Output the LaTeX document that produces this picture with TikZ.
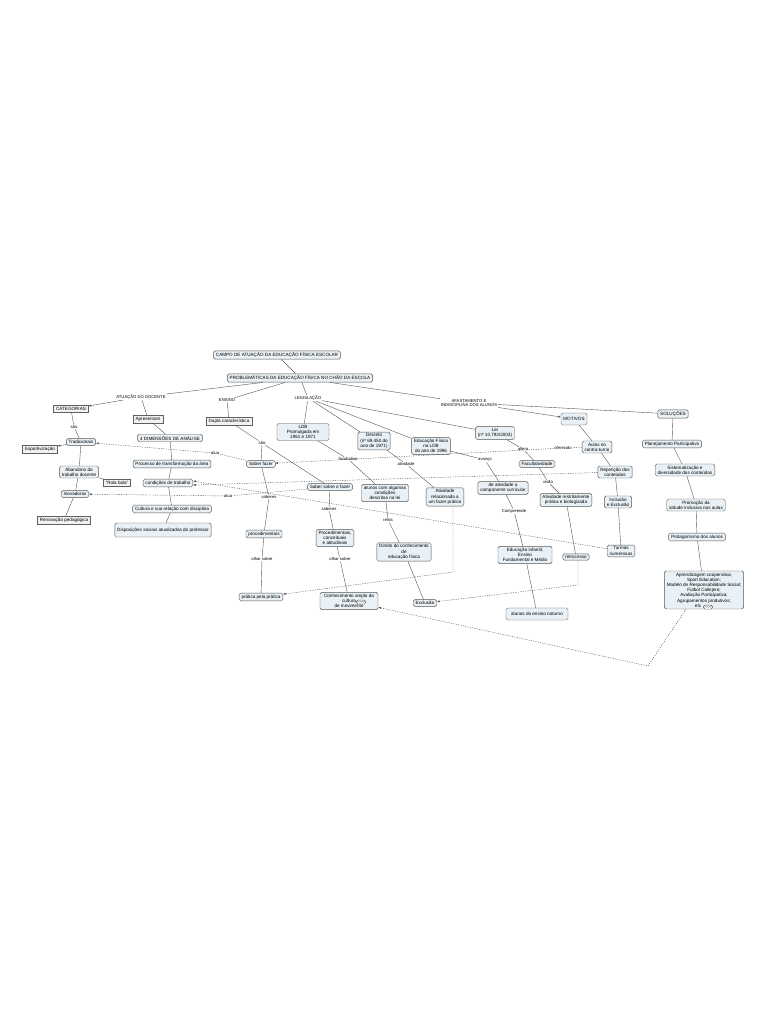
\documentclass[tikz,border=0pt]{standalone}
\usepackage{fontspec}
\setmainfont{Liberation Sans}
\usetikzlibrary{arrows.meta}
\definecolor{cmapfill}{RGB}{233,241,246}
\definecolor{cmapline}{RGB}{85,85,85}

\begin{document}
\begin{tikzpicture}[x=1pt, y=-1pt,
  >={Latex[length=2.6pt,width=2.2pt]},
  concept/.style={draw=cmapline, fill=cmapfill, rounded corners=1.6pt, line width=0.45pt,
    align=center, font=\fontsize{4.6}{5.2}\selectfont, inner xsep=2.4pt, inner ysep=1.7pt},
  plainbox/.style={concept, rounded corners=0pt, draw=gray!75!black, fill=gray!10},
  linklabel/.style={fill=white, inner sep=0.6pt, align=center, font=\fontsize{4.2}{4.8}\selectfont},
  link/.style={draw=cmapline, line width=0.4pt},
  crossline/.style={draw=cmapline, line width=0.4pt, dash pattern=on 1.2pt off 1.2pt},
  crosslink/.style={crossline, ->},
  note/.style={draw=cmapline, rounded corners=1.5pt, fill=white, inner sep=0.8pt,
    font=\fontsize{3.4}{4}\selectfont}]

\fill[white] (0,0) rectangle (768,1024);
\useasboundingbox (0,0) rectangle (768,1024);

% Titulo
\node[concept] (campo) at (277,355) {CAMPO DE ATUAÇÃO DA EDUCAÇÃO FÍSICA ESCOLAR};
\node[concept] (problem) at (300,378) {PROBLEMÁTICAS DA EDUCAÇÃO FÍSICA NO CHÃO DA ESCOLA};

% Atuacao do docente
\node[linklabel] (atuacao) at (141,397) {ATUAÇÃO DO DOCENTE};
\node[plainbox] (categ) at (71,409) {CATEGORIAS};
\node[linklabel] (sao1) at (74,427) {são};
\node[concept] (trad) at (81,442) {Tradicionais};
\node[plainbox] (esport) at (40,449) {Esportivização};
\node[concept] (aband) at (79,472) {Abandono do\\trabalho docente};
\node[plainbox] (rola) at (117,483) {“Rola bola”};
\node[concept] (inov) at (75,494) {Inovadoras};
\node[plainbox] (renov) at (64,520) {Renovação pedagógica};
\node[plainbox] (apresent) at (148,419) {Apresentam};
\node[concept] (dimens) at (170,438) {4 DIMENSÕES DE ANÁLISE};
\node[concept] (processo) at (172,464) {Processo de transformação da área};
\node[concept] (condicoes) at (168,483) {condições de trabalho};
\node[concept] (cultura) at (172,509) {Cultura e sua relação com disciplina};
\node[concept, minimum height=14pt] (disposicoes) at (163,530) {Disposições sociais atualizadas do professor};

% Ensino
\node[linklabel] (ensino) at (227,400) {ENSINO};
\node[plainbox] (dupla) at (229,421) {Dupla característica};
\node[linklabel] (sao2) at (262,443) {são};
\node[concept] (saberfazer) at (261,464) {Saber fazer};
\node[linklabel] (saberes1) at (269,497) {saberes};
\node[concept] (proced) at (264,534) {procedimentais};
\node[linklabel] (olhar1) at (262,559) {olhar sobre};
\node[concept] (pratica) at (261,597) {prática pela prática};
\node[concept] (sabersobre) at (330,487) {Saber sobre o fazer};
\node[linklabel] (saberes2) at (329,509) {saberes};
\node[concept] (procconc) at (335,538) {Procedimentais,\\conceituais\\e atitudinais};
\node[linklabel] (olhar2) at (340,559) {olhar sobre};
\node[concept, minimum width=58pt] (conhec) at (349,601) {Conhecimento amplo da\\cultura\\de movimento};
\node[note] (conhecnote) at (361,602) {????};

% Legislacao
\node[linklabel] (legis) at (308,398) {LEGISLAÇÃO};
\node[concept, minimum width=52pt] (ldb) at (303,432) {LDB\\Promulgada em\\1961 e 1971};
\node[concept] (decreto) at (374,441) {Decreto\\(nº 69.450 do\\ano de 1971)};
\node[linklabel] (facult) at (348,459) {facultativo};
\node[concept] (alunoscond) at (385,493) {alunos com algumas\\condições\\descritas na lei};
\node[linklabel] (retira) at (388,520) {retira};
\node[concept] (direito) at (404,552) {Direito do conhecimento\\de\\educação física};
\node[concept] (exclusao) at (425,603) {Exclusão};
\node[linklabel] (ativ) at (406,464) {atividade};
\node[concept] (ativrel) at (445,497) {Atividade\\relacionada a\\um fazer prático};
\node[concept] (edfisldb) at (431,446) {Educação Física\\na LDB\\do ano de 1996};
\node[linklabel] (avanco) at (485,460) {avanço};
\node[concept] (ativcomp) at (503,488) {de atividade a\\componente curricular};
\node[linklabel] (compreende) at (514,511) {Compreende};
\node[concept, minimum width=54pt] (edinf) at (525,555) {Educação infantil,\\Ensino\\Fundamental e Médio};
\node[concept, minimum width=62pt, minimum height=12pt] (noturno) at (537,614) {alunos do ensino noturno};
\node[concept] (lei) at (495,433) {Lei\\(nº 10.793/2003)};
\node[linklabel] (altera) at (523,449) {altera};
\node[concept] (facultiv) at (537,464) {Facultatividade};
\node[linklabel] (visao) at (548,482) {visão};
\node[concept] (ativrestr) at (566,500) {Atividade restritamente\\prática e biologizada};
\node[concept] (retro) at (576,557) {retrocesso};

% Afastamento e indisciplina
\node[linklabel] (afast) at (469,403) {AFASTAMENTO E\\INDISCIPLINA DOS ALUNOS};
\node[concept, minimum height=12pt] (motivos) at (574,419) {MOTIVOS};
\node[linklabel] (oferecido) at (563,448) {oferecido};
\node[concept] (aulas) at (597,447) {Aulas no\\contra-turno};
\node[concept] (repeticao) at (615,472) {Repetição dos\\conteúdos};
\node[concept] (inclusao) at (618,502) {Inclusão\\e Exclusão};
\node[concept] (turmas) at (621,551) {Turmas\\numerosas};

% Solucoes
\node[concept] (solucoes) at (673,414) {SOLUÇÕES};
\node[concept] (planej) at (672,444) {Planejamento Participativo};
\node[concept] (sistem) at (685,470) {Sistematização e\\diversidade dos conteúdos};
\node[concept] (promocao) at (696,505) {Promoção da\\atitude inclusiva nas aulas};
\node[concept] (protag) at (697,537) {Protagonismo dos alunos};
\node[concept] (metodos) at (704,590) {Aprendizagem cooperativa;\\Sport Education;\\Modelo de Responsabilidade Social;\\Futbol Callejero;\\Avaliação Participativa;\\Agrupamentos produtivos;\\etc\hspace*{12pt}};
\node[note] (metodosnote) at (708,607) {????};

% Ligacoes
\foreach \a/\b in {campo/problem, problem/atuacao, atuacao/apresent, problem/ensino, ensino/dupla,
    problem/legis, legis/ldb, legis/decreto, legis/edfisldb, legis/lei, problem/afast, afast/solucoes,
    categ/sao1, sao1/trad, trad/aband, aband/rola, aband/inov, inov/renov,
    apresent/dimens, dimens/processo, processo/condicoes, condicoes/cultura, cultura/disposicoes,
    dupla/sao2, sao2/saberfazer, sao2/sabersobre,
    saberfazer/saberes1, saberes1/proced, proced/olhar1, olhar1/pratica,
    sabersobre/saberes2, saberes2/procconc, procconc/olhar2, olhar2/conhec,
    ldb/facult, facult/alunoscond, alunoscond/retira, retira/direito, direito/exclusao,
    decreto/ativ, ativ/ativrel, edfisldb/avanco, avanco/ativcomp, ativcomp/compreende,
    compreende/edinf, edinf/noturno, lei/altera, altera/facultiv, facultiv/visao,
    visao/ativrestr, ativrestr/retro,
    motivos/aulas, aulas/repeticao, repeticao/inclusao, inclusao/turmas,
    solucoes/planej, planej/sistem, sistem/promocao, promocao/protag, protag/metodos}
  \draw[link] (\a) -- (\b);

\draw[link, ->] (atuacao) -- (categ);
\draw[link, ->] (afast) -- (motivos);
\draw[link, ->] (trad) -- (esport);

% Ligacoes cruzadas
\node[linklabel] (atua1) at (215,453) {atua};
\node[linklabel] (atua2) at (228,496) {atua};
\draw[crossline] (saberfazer) -- (atua1);
\draw[crosslink] (atua1) -- (trad);
\draw[crossline] (sabersobre) -- (atua2);
\draw[crosslink] (atua2) -- (inov);
\draw[crossline] (aulas) -- (oferecido);
\draw[crosslink] (oferecido) -- (saberfazer);
\draw[crosslink] (repeticao) -- ([yshift=-2pt]condicoes.east);
\draw[crosslink] (turmas) -- ([yshift=2pt]condicoes.east);

\coordinate (bendA) at (453,572);
\coordinate (bendB) at (578,585);
\coordinate (bendC) at (648,666);
\draw[crosslink] (ativrel.south -| bendA) -- (bendA) -- (pratica);
\draw[crosslink] (retro.south -| bendB) -- (bendB) -- (exclusao);
\draw[crosslink] ([xshift=-18pt]metodos.south) -- (bendC) -- (conhec);

\end{tikzpicture}
\end{document}
